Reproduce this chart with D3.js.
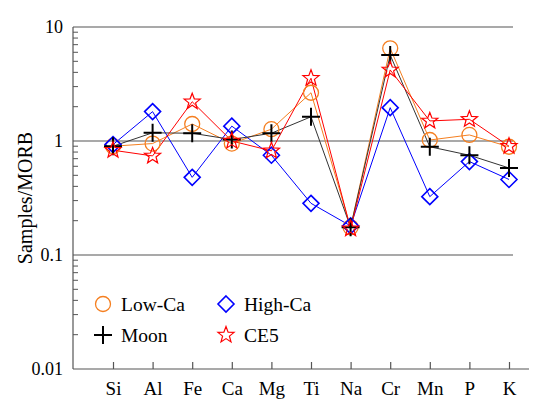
<!DOCTYPE html>
<html lang="en">

<head>
  <meta charset="UTF-8">
  <script src="https://d3js.org/d3.v7.min.js"></script>
  <style>
    body { margin: 0; background: #fff; }
  </style>
</head>

<body>
  <svg id="chart" width="550" height="416"></svg>

  <script>
    // data (normalised to MORB)
    const elements = ["Si", "Al", "Fe", "Ca", "Mg", "Ti", "Na", "Cr", "Mn", "P", "K"];
    const lowCa  = [0.90, 0.95, 1.41, 0.95, 1.27, 2.65, 0.175, 6.5, 1.02, 1.13, 0.89];
    const highCa = [0.93, 1.81, 0.48, 1.35, 0.75, 0.284, 0.18, 1.96, 0.325, 0.66, 0.46];
    const moon   = [0.90, 1.18, 1.17, 1.03, 1.17, 1.63, 0.175, 5.68, 0.89, 0.75, 0.58];
    const ce5    = [0.83, 0.74, 2.21, 1.00, 0.82, 3.55, 0.17, 4.2, 1.50, 1.55, 0.90];
    const yTicks = [0.01, 0.1, 1, 10];
    const yTickLabels = ["0.01", "0.1", "1", "10"];

    const serif = "'Liberation Serif', 'Times New Roman', Times, serif";
    const svg = d3.select("#chart").style("font-family", serif);
    const plotLeft = 73, plotRight = 529, gridRight = 513, plotTop = 27, plotBottom = 369;

    const x = d3.scalePoint().domain(elements).range([113, 509]);
    const y = d3.scaleLog().domain([0.01, 10]).range([plotBottom, plotTop]);

    const axisColor = "#555";

    // gridlines at decades
    svg.selectAll("line.grid").data([0.1, 1, 10])
      .join("line")
      .attr("class", "grid")
      .attr("x1", plotLeft).attr("x2", gridRight)
      .attr("y1", d => y(d)).attr("y2", d => y(d))
      .attr("stroke", axisColor).attr("stroke-width", 1.2);

    // minor ticks (inside)
    const minor = [];
    [0.01, 0.1, 1].forEach(dec => { for (let k = 2; k <= 9; k++) minor.push(dec * k); });
    svg.selectAll("line.minor").data(minor)
      .join("line")
      .attr("class", "minor")
      .attr("x1", plotLeft).attr("x2", plotLeft + 5)
      .attr("y1", d => y(d)).attr("y2", d => y(d))
      .attr("stroke", axisColor).attr("stroke-width", 1);

    // y axis
    const yAxis = svg.append("g")
      .attr("transform", "translate(" + plotLeft + ",0)")
      .call(d3.axisLeft(y).tickValues(yTicks).tickSize(0).tickPadding(10)
        .tickFormat((d, i) => yTickLabels[i]));
    yAxis.attr("font-family", null).attr("font-size", null);
    yAxis.select(".domain").remove();
    yAxis.selectAll("text").style("font-family", serif).attr("font-size", 18).attr("fill", "#000");
    svg.append("line")
      .attr("x1", plotLeft).attr("x2", plotLeft).attr("y1", plotTop).attr("y2", plotBottom)
      .attr("stroke", axisColor).attr("stroke-width", 1.2);

    // x axis
    const xAxis = svg.append("g")
      .attr("transform", "translate(0," + plotBottom + ")")
      .call(d3.axisBottom(x).tickSizeInner(-7).tickSizeOuter(0).tickPadding(13));
    xAxis.attr("font-family", null).attr("font-size", null);
    xAxis.select(".domain").remove();
    xAxis.selectAll("line").attr("stroke", axisColor).attr("stroke-width", 1.2);
    xAxis.selectAll("text").style("font-family", serif).attr("font-size", 19).attr("fill", "#000");
    svg.append("line")
      .attr("x1", plotLeft).attr("x2", plotRight).attr("y1", plotBottom).attr("y2", plotBottom)
      .attr("stroke", axisColor).attr("stroke-width", 1.2);

    // y label
    svg.append("text")
      .attr("transform", "translate(32,198) rotate(-90)")
      .attr("text-anchor", "middle")
      .style("font-family", serif)
      .attr("font-size", 20)
      .text("Samples/MORB");

    // marker shapes
    function starPath(R, r) {
      const pts = [];
      for (let i = 0; i < 10; i++) {
        const a = -Math.PI / 2 + i * Math.PI / 5;
        const rad = i % 2 === 0 ? R : r;
        pts.push([rad * Math.cos(a), rad * Math.sin(a)]);
      }
      return "M" + pts.map(p => p[0].toFixed(2) + "," + p[1].toFixed(2)).join("L") + "Z";
    }
    const shapes = {
      circle: d3.symbol().type(d3.symbolCircle).size(Math.PI * 7.5 * 7.5)(),
      diamond: "M0,-8L8,0L0,8L-8,0Z",
      plus: "M-9,0H9M0,-9V9",
      star: starPath(8.5, 3.6)
    };

    const series = [
      { name: "Low-Ca", values: lowCa, color: "#f57f20", shape: "circle", width: 1.3 },
      { name: "High-Ca", values: highCa, color: "#0000ff", shape: "diamond", width: 1.6 },
      { name: "Moon", values: moon, color: "#000000", shape: "plus", width: 2 },
      { name: "CE5", values: ce5, color: "#ff0000", shape: "star", width: 1.2 }
    ];

    const line = d3.line().x((d, i) => x(elements[i])).y(d => y(d));

    series.forEach(s => {
      svg.append("path")
        .attr("d", line(s.values))
        .attr("fill", "none")
        .attr("stroke", s.color === "#000000" ? "#333" : s.color)
        .attr("stroke-width", 1);
    });

    series.forEach(s => {
      svg.append("g").selectAll("path").data(s.values)
        .join("path")
        .attr("transform", (d, i) => "translate(" + x(elements[i]) + "," + y(d) + ")")
        .attr("d", shapes[s.shape])
        .attr("fill", "none")
        .attr("stroke", s.color)
        .attr("stroke-width", s.width);
    });

    // legend
    const legendPos = [[103, 304], [226, 304], [103, 335], [226, 335]];
    series.forEach((s, i) => {
      const g = svg.append("g").attr("transform", "translate(" + legendPos[i][0] + "," + legendPos[i][1] + ")");
      g.append("path").attr("d", shapes[s.shape])
        .attr("fill", "none").attr("stroke", s.color).attr("stroke-width", s.width);
      g.append("text").attr("x", 18).attr("y", 7).style("font-family", serif)
        .attr("font-size", 19.5).text(s.name);
    });
  </script>
</body>

</html>
